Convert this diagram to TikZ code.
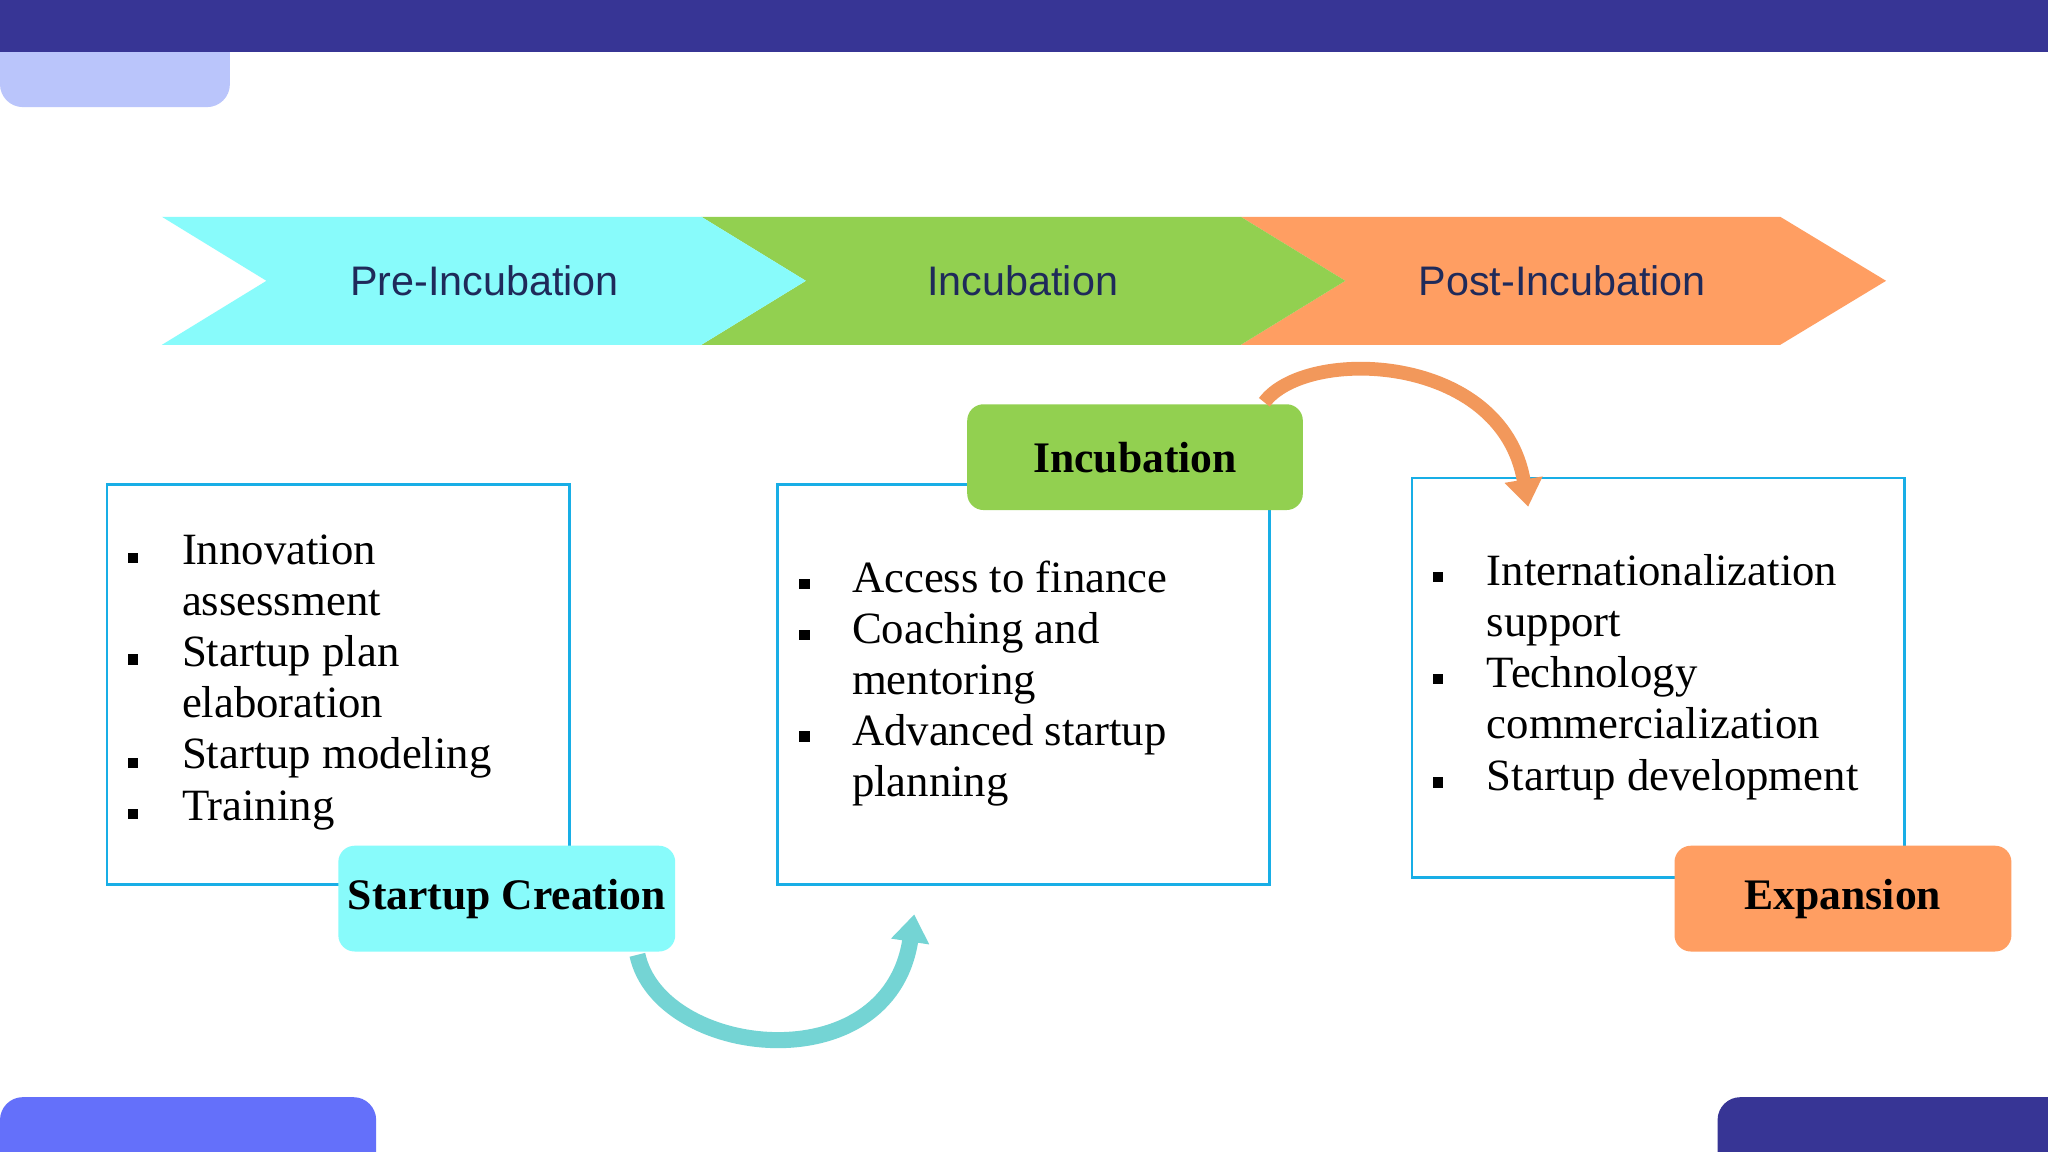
\documentclass[tikz,border=0pt]{standalone}
\usepackage{fontspec}
\setmainfont{Liberation Serif}
\newfontfamily\sansf{Liberation Sans}
\usetikzlibrary{arrows.meta}
\definecolor{navy}{HTML}{373595}
\definecolor{lav}{HTML}{BAC5FB}
\definecolor{blu}{HTML}{6470FA}
\definecolor{cyanc}{HTML}{88FBFB}
\definecolor{greenc}{HTML}{92D050}
\definecolor{orangec}{HTML}{FF9E62}
\definecolor{boxb}{HTML}{18AEE6}
\definecolor{txt}{HTML}{1F2A5A}
\begin{document}
\begin{tikzpicture}[x=0.02cm,y=-0.02cm,
  box/.style={draw=boxb,line width=1.2pt},
  lab/.style={rounded corners=0.25cm,inner sep=0pt,font=\fontsize{19}{22}\selectfont\bfseries},
  phase/.style={font=\sansf\fontsize{18}{22}\selectfont,text=txt},
  item/.style={anchor=north west,align=left,font=\fontsize{19.5}{22.3}\selectfont,inner sep=0pt},
  sq/.style={fill=black,minimum size=4.5pt,inner sep=0pt}]
\useasboundingbox (0,0) rectangle (1568,882);
\fill[white] (0,0) rectangle (1568,882);
% decorations
\fill[lav,rounded corners=0.35cm] (0,20) rectangle (176,82);
\fill[navy] (0,0) rectangle (1568,40);
\fill[blu,rounded corners=0.35cm] (0,840) rectangle (288,900);
\fill[blu] (0,860) rectangle (200,882);
\fill[navy,rounded corners=0.35cm] (1315,840) rectangle (1600,900);
% chevrons
\fill[orangec] (950,166)--(1363,166)--(1444,215)--(1363,264)--(950,264)--(1030,215)--cycle;
\fill[greenc] (537,166)--(950,166)--(1030,215)--(950,264)--(537,264)--(617,215)--cycle;
\fill[cyanc] (124,166)--(537,166)--(617,215)--(537,264)--(124,264)--(204,215)--cycle;
\node[phase] (p1) at (371,215) {Pre-Incubation};
\node[phase] (p2) at (783,215) {Incubation};
\node[phase] (p3) at (1196,215) {Post-Incubation};
% boxes
\draw[box] (82,371) rectangle (436,677);
\draw[box] (595,371) rectangle (972,677);
\draw[box] (1081,366) rectangle (1458,672);
% box 1 items
\foreach \y/\t in {427/Innovation,505/Startup plan,584/Startup modeling,623/Training}{\node[sq] at (102,\y) {};}
\node[item] at (139,409) {Innovation\\assessment\\Startup plan\\elaboration\\Startup modeling\\Training};
\foreach \y in {447,486,564}{\node[sq] at (616,\y) {};}
\node[item] at (652,429) {Access to finance\\Coaching and\\mentoring\\Advanced startup\\planning};
\foreach \y in {442,520,599}{\node[sq] at (1101,\y) {};}
\node[item] at (1138,424) {Internationalization\\support\\Technology\\commercialization\\Startup development};
% label boxes
\node[lab,fill=cyanc,minimum width=5.16cm,minimum height=1.62cm] (sc) at (388,688) {Startup Creation};
\node[lab,fill=greenc,minimum width=5.14cm,minimum height=1.62cm] (inc) at (869,350) {Incubation};
\node[lab,fill=orangec,minimum width=5.16cm,minimum height=1.62cm] (exp) at (1411,688) {Expansion};
% curved arrows
\coordinate (a1) at (488,731);
\coordinate (a2) at (700,700);
\draw[line width=7pt,color=cyanc!60!teal!80,-{Triangle[width=16pt,length=12pt]}] (a1) .. controls (505,810) and (680,830) .. (a2);
\coordinate (b1) at (968,308);
\coordinate (b2) at (1170,388);
\draw[line width=6pt,color=orangec!80!brown,-{Triangle[width=16pt,length=12pt]}] (b1) .. controls (1000,265) and (1150,270) .. (b2);
\end{tikzpicture}
\end{document}
